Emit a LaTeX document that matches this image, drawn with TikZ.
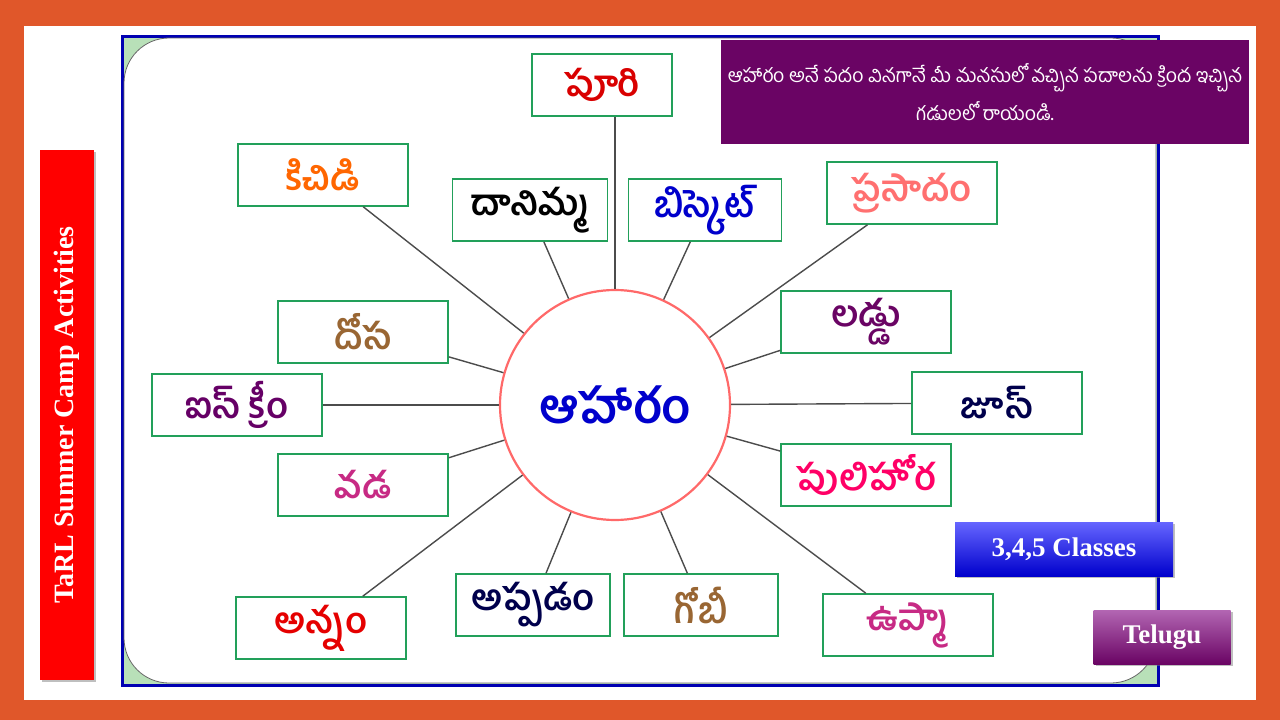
\documentclass[tikz,border=0pt]{standalone}
\usepackage{fontspec}
\newfontfamily\tel[Script=Telugu]{Hind Guntur}
\setmainfont{Liberation Serif}
\usetikzlibrary{shadows}
\definecolor{org}{HTML}{E0572A}
\definecolor{bx}{HTML}{22A05A}
\definecolor{pur}{HTML}{6A0464}
\tikzset{wbox/.style={draw=bx,line width=1.6pt,fill=white,minimum width=#1,minimum height=62pt,inner sep=0pt,font=\tel\bfseries\fontsize{36}{40}\selectfont},
wbox/.default=170pt,
spoke/.style={draw=black!70,line width=1.4pt}}
\begin{document}
\begin{tikzpicture}[x=1pt,y=-1pt]
\useasboundingbox (0,0) rectangle (1280,720);
\fill[org] (0,0) rectangle (1280,720);
\fill[white] (24,26) rectangle (1256,700);
\fill[green!40!gray!40] (122,36) rectangle (1158,685);
\draw[blue!70!black,line width=3pt] (122,36) rectangle (1158,685);
\fill[white,draw=black!60,line width=0.8pt,rounded corners=45pt] (124,38) rectangle (1156,683);
\node[draw=red!45!pink,line width=2.2pt,circle,minimum size=230pt,fill=white,text=blue!80!black,font=\tel\bfseries\fontsize{48}{52}\selectfont] (c) at (615,405) {ఆహారం};
\node[wbox=140pt,text=red!85!black] (a1) at (602,85) {పూరి};
\node[wbox,text=orange!80!red] (a2) at (323,175) {కిచిడి};
\node[wbox=155pt,text=black] (a3) at (530,210) {దానిమ్మ};
\node[wbox=153pt,text=blue!80!black] (a4) at (705,210) {బిస్కెట్};
\node[wbox,text=red!50!pink!90!white] (a5) at (912,193) {ప్రసాదం};
\node[wbox,text=brown!80!black] (a6) at (363,332) {దోస};
\node[wbox,text=pur] (a7) at (866,322) {లడ్డు};
\node[wbox,text=violet!80!black] (a8) at (237,405) {ఐస్ క్రీం};
\node[wbox,text=blue!30!black] (a9) at (997,403) {జూస్};
\node[wbox,text=magenta!80!black] (a10) at (363,485) {వడ};
\node[wbox,text=red!60!magenta] (a11) at (866,475) {పులిహోర};
\node[wbox,text=red!90!black] (a12) at (321,628) {అన్నం};
\node[wbox=154pt,text=blue!30!black] (a13) at (533,605) {అప్పడం};
\node[wbox=154pt,text=brown!80!black] (a14) at (701,605) {గోబీ};
\node[wbox,text=magenta!80!black] (a15) at (908,625) {ఉప్మా};
\draw[spoke] (c) -- (a1.south -| c);
\foreach \i in {2,...,15} \draw[spoke] (c) -- (a\i);
\node[fill=pur,minimum width=528pt,minimum height=104pt,inner sep=0pt,align=center,text=white,font=\tel\fontsize{19.5}{38}\selectfont] (ins) at (985,92) {ఆహారం అనే పదం వినగానే మీ మనసులో వచ్చిన పదాలను క్రింద ఇచ్చిన\\ గడులలో రాయండి.};
\node[fill=red,drop shadow,minimum width=530pt,minimum height=54pt,rotate=90,text=white,font=\bfseries\fontsize{28}{30}\selectfont] (tarl) at (67,415) {TaRL Summer Camp Activities};
\node[top color=blue!60!white,bottom color=blue!80!black,drop shadow,minimum width=218pt,minimum height=54pt,text=white,font=\bfseries\fontsize{27}{30}\selectfont] (cls) at (1064,549) {3,4,5 Classes};
\node[top color=violet!60!white,bottom color=pur,drop shadow,minimum width=137pt,minimum height=54pt,text=white,font=\bfseries\fontsize{27}{30}\selectfont] (tel) at (1162,637) {Telugu};
\end{tikzpicture}
\end{document}
